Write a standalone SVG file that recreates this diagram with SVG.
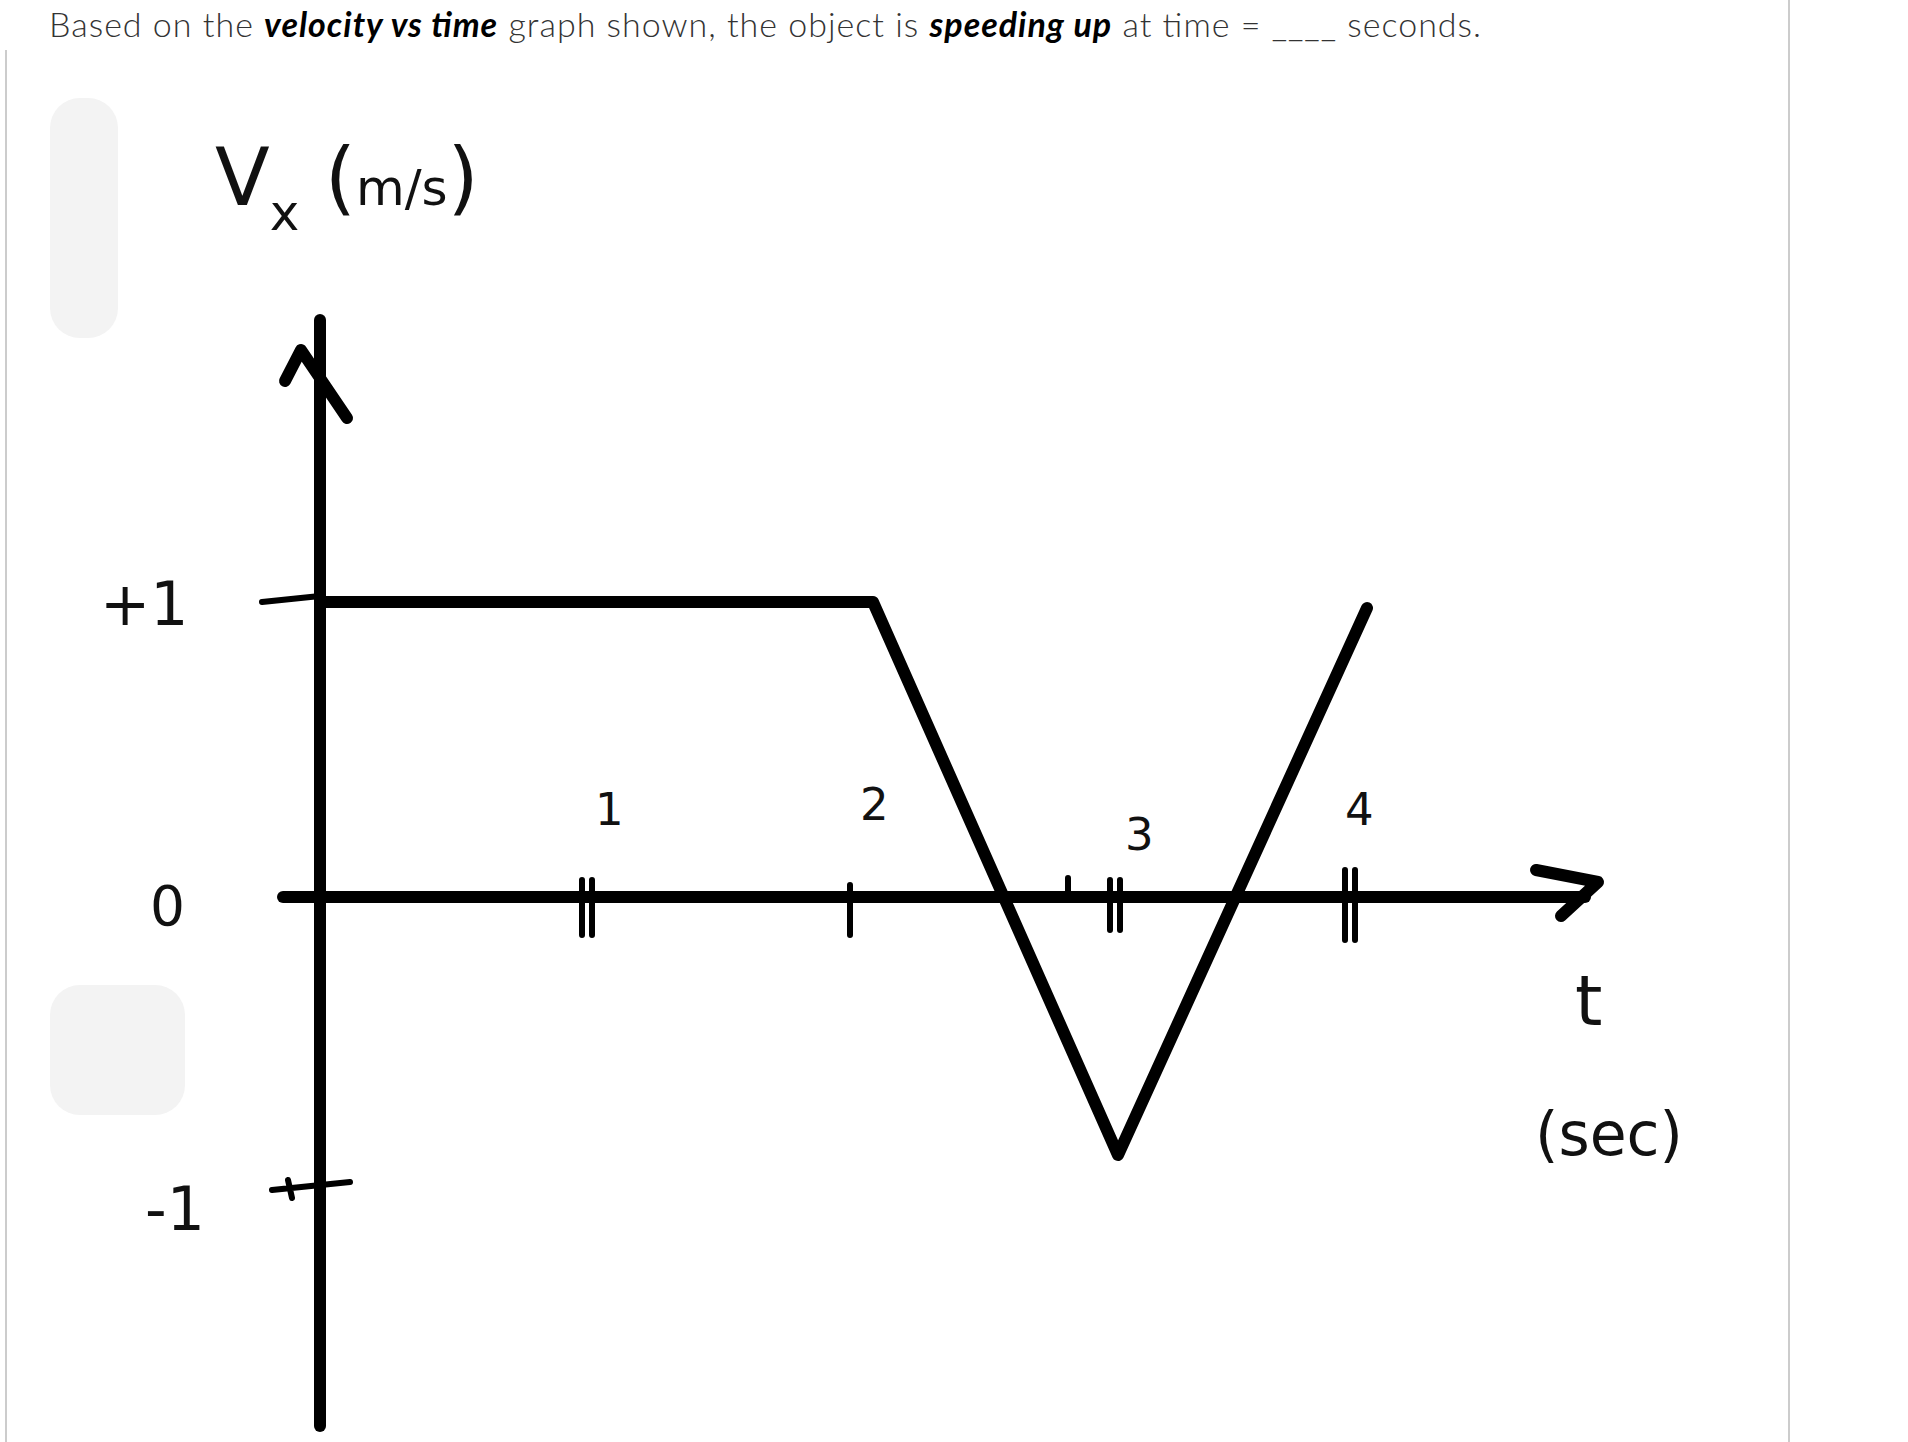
<svg xmlns="http://www.w3.org/2000/svg" width="1908" height="1442" viewBox="0 0 1908 1442">
<style>
.t{font-family:"Lato","Liberation Sans",sans-serif;font-size:34px;font-weight:300;fill:#333}
.h{font-family:"DejaVu Sans","Liberation Sans",sans-serif;fill:#111}
.ax{stroke:#000;stroke-width:12;fill:none;stroke-linecap:round;stroke-linejoin:round}
.tk{stroke:#000;stroke-width:6;fill:none;stroke-linecap:round}
</style>
<rect width="1908" height="1442" fill="#fff"/>
<line x1="6" y1="50" x2="6" y2="1442" stroke="#ccc" stroke-width="2"/>
<line x1="1802" y1="0" x2="1802" y2="1442" stroke="#ccc" stroke-width="2" transform="translate(-13 0)"/>
<text class="t" x="49" y="37" textLength="1432" lengthAdjust="spacing">Based on the <tspan font-weight="bold" font-style="italic" fill="#000">velocity vs time</tspan> graph shown, the object is <tspan font-weight="bold" font-style="italic" fill="#000">speeding up</tspan> at time = ____ seconds.</text>
<rect x="50" y="98" width="68" height="240" rx="30" fill="#f3f3f3"/>
<rect x="50" y="985" width="135" height="130" rx="30" fill="#f3f3f3"/>
<g id="labels">
<text class="h" x="215" y="205" font-size="80">V<tspan font-size="50" dy="25">x</tspan><tspan dy="-25"> (</tspan><tspan font-size="50">m/s</tspan>)</text>
<text class="h" x="100" y="625" font-size="60">+1</text>
<text class="h" x="150" y="925" font-size="55">0</text>
<text class="h" x="145" y="1230" font-size="60">-1</text>
<text class="h" x="595" y="825" font-size="45">1</text>
<text class="h" x="860" y="820" font-size="45">2</text>
<text class="h" x="1125" y="850" font-size="45">3</text>
<text class="h" x="1345" y="825" font-size="45">4</text>
<text class="h" x="1575" y="1025" font-size="70">t</text>
<text class="h" x="1535" y="1155" font-size="60">(sec)</text>
</g>
<g id="axes">
<path class="ax" d="M320 1426 V320"/>
<path class="ax" d="M285 381 L301 350 L347 418" stroke-width="6"/>
<path class="ax" d="M283 897 H1585"/>
<path class="ax" d="M1536 870 L1598 882 L1561 916" stroke-width="6"/>
<path class="tk" d="M262 602 L320 596 M272 1190 L350 1182 M288 1180 L292 1198 M290 897 L320 897"/>
<path class="tk" d="M582 880 V935 M592 880 V935 M850 885 V935 M1068 878 V900 M1110 880 V930 M1120 880 V930 M1345 870 V940 M1355 870 V940"/>
</g>
<g id="graph">
<path class="ax" d="M320 602 H873 L1118 1155 L1367 608"/>
</g>
</svg>
